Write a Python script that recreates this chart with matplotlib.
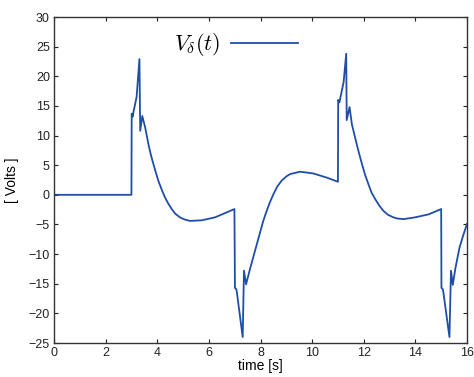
import matplotlib
matplotlib.use("Agg")
import matplotlib.pyplot as plt

# Values
time_s = [0.0, 3.0, 3.01, 3.05, 3.08, 3.2, 3.31, 3.34, 3.42,
          3.53, 3.66, 3.75, 3.85, 3.95, 4.04, 4.17, 4.30, 4.43, 4.56, 4.70, 4.88,
          5.05, 5.27, 5.72, 6.24, 6.99,
          7.01, 7.06, 7.08, 7.31, 7.36, 7.44,
          7.60, 7.79, 7.98, 8.10, 8.24, 8.37, 8.50, 8.65, 8.82, 9.00, 9.15, 9.53,
          10.05, 10.57, 11.0,
          11.01, 11.06, 11.09, 11.22, 11.32, 11.34, 11.45,
          11.54, 11.73, 11.83, 11.93, 12.05, 12.18, 12.30, 12.44, 12.60, 12.76,
          12.95, 13.15, 13.30, 13.54, 13.99, 14.51, 15.0,
          15.01, 15.06, 15.08, 15.32, 15.38, 15.45,
          15.55, 15.71, 15.85, 16.0]
volts = [0.0, 0.0, 13.7, 13.2, 14.0, 16.5, 22.9, 10.8, 13.3,
         11.4, 8.5, 6.8, 5.2, 3.7, 2.4, 0.9, -0.45, -1.5, -2.4, -3.2, -3.8,
         -4.15, -4.4, -4.3, -3.8, -2.4,
         -15.7, -15.9, -16.3, -24.0, -12.8, -15.1,
         -12.4, -9.4, -6.4, -4.5, -2.7, -1.2, 0.1, 1.4, 2.4, 3.1, 3.5, 3.9,
         3.6, 2.9, 2.2,
         16.0, 15.6, 16.3, 19.0, 23.8, 12.6, 14.8,
         11.9, 8.5, 6.8, 5.2, 3.4, 1.8, 0.4, -0.7, -1.8, -2.7,
         -3.4, -3.8, -4.0, -4.1, -3.8, -3.3, -2.4,
         -15.7, -15.9, -16.3, -24.0, -12.8, -15.2,
         -12.4, -8.9, -6.9, -4.9]

x_ticks = list(range(0, 17, 2))
y_ticks = list(range(-25, 31, 5))
legend_label = r"$V_\delta(t)$"
x_label = "time [s]"
y_label = "[ Volts ]"

plt.rcParams['font.family'] = ['Liberation Sans', 'DejaVu Sans']
plt.rcParams['mathtext.fontset'] = 'cm'

fig = plt.figure(figsize=(4.74, 3.77), dpi=100)
ax = fig.add_axes([54/474, 1-343/377, (467-54)/474, (343-17)/377])

ax.plot(time_s, volts, color='#1f4ea6', lw=1.3, label=legend_label)

ax.set_xlim(0, 16)
ax.set_ylim(-25, 30)
ax.set_xticks(x_ticks)
ax.set_yticks(y_ticks)
ax.tick_params(direction='in', top=True, right=True, labelsize=9,
               length=3, width=0.8, pad=3, colors='#222222')
for s in ax.spines.values():
    s.set_linewidth(1.0)
    s.set_color('#333333')

ax.set_xlabel(x_label, fontsize=10, labelpad=0)
ax.set_ylabel(y_label, fontsize=10, labelpad=7)

leg = ax.legend(loc='center', bbox_to_anchor=((236-54)/413, 1-(45-17)/326),
                frameon=False, markerfirst=False, fontsize=16,
                handlelength=3.0, handletextpad=0.5, borderaxespad=0)

fig.savefig("out.png", dpi=100)
